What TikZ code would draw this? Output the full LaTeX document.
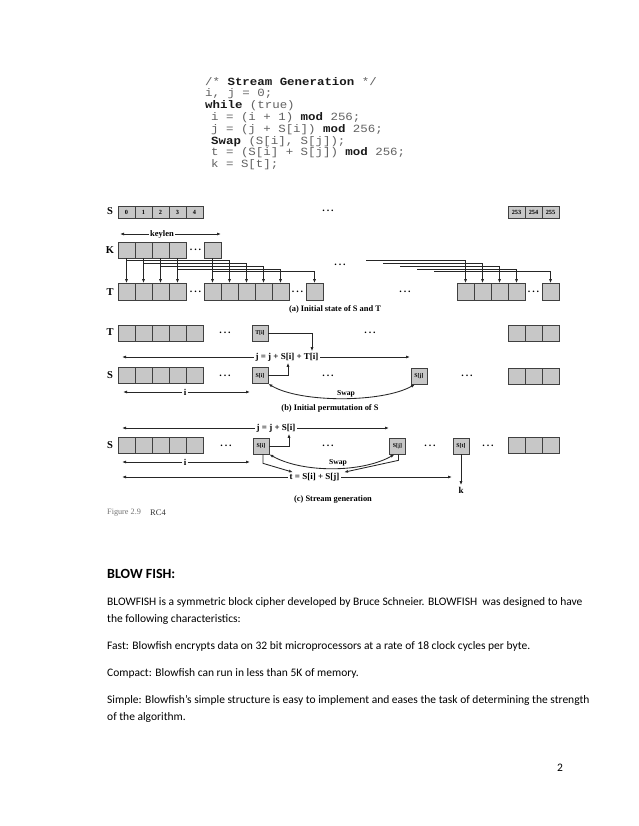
\documentclass[tikz,border=0pt]{standalone}
\usepackage{fontspec}
\setmainfont{Liberation Serif}
\newfontfamily\codefont[FakeStretch=1.13]{Liberation Mono}
\newfontfamily\bodyfont{Carlito}
\usetikzlibrary{arrows.meta,calc}
\newcommand\kw[1]{\textcolor{black!90}{\bfseries #1}}
\newcommand\threedots{\textbf{.\hspace{1.8pt}.\hspace{1.8pt}.}}
\tikzset{
  cell/.style={draw=black!75, fill=black!22, line width=0.7pt, minimum width=17pt, minimum height=16pt, inner sep=0pt, font=\fontsize{6.3}{6.3}\selectfont\bfseries},
  scell/.style={cell, minimum height=12pt},
  tcell/.style={cell, minimum height=17pt},
  icell/.style={cell, minimum width=16pt, font=\fontsize{5.8}{5.8}\selectfont\bfseries},
  lbl/.style={font=\fontsize{10.5}{11}\selectfont\bfseries, inner sep=0pt},
  dts/.style={font=\fontsize{10}{10}\selectfont, inner sep=0pt},
  arr/.style={-{Latex[length=4pt,width=3pt]}, line width=0.85pt, black!85},
  darr/.style={{Latex[length=4pt,width=3pt]}-{Latex[length=4pt,width=3pt]}, line width=0.85pt, black!85},
  capt/.style={font=\fontsize{8.4}{9}\selectfont\bfseries, inner sep=0pt},
  eq/.style={font=\fontsize{9}{9}\selectfont\bfseries, inner sep=1.5pt},
  small/.style={font=\fontsize{7.6}{8}\selectfont\bfseries, inner sep=0pt},
  code/.style={anchor=west, inner sep=0pt, font=\codefont\fontsize{11}{11}\selectfont, text=black!62},
  body/.style={anchor=base west, inner sep=0pt, font=\bodyfont\fontsize{11.5}{13}\selectfont},
}
\begin{document}
\begin{tikzpicture}[x=1pt,y=-1pt]
\path[use as bounding box, fill=white] (0,0) rectangle (638,826);

% ---------------- code ----------------
\node[code] (c1) at (205,82) {/* \kw{Stream Generation} */};
\node[code] (c2) at (205,94) {i, j = 0;};
\node[code] (c3) at (205,106) {\kw{while} (true)};
\node[code] (c4) at (211,118) {i = (i + 1) \kw{mod} 256;};
\node[code] (c5) at (211,130) {j = (j + S[i]) \kw{mod} 256;};
\node[code] (c6) at (211,141.5) {\kw{Swap} (S[i], S[j]);};
\node[code] (c7) at (211,153) {t = (S[i] + S[j]) \kw{mod} 256;};
\node[code] (c8) at (211,165) {k = S[t];};

% ---------------- (a) ----------------
\node[lbl] (Sa) at (110,211) {S};
\node[lbl] (Ka) at (110,250) {K};
\node[lbl] (Ta) at (110,292) {T};
\foreach \i/\x in {0/126.5,1/143.5,2/160.5,3/177.5,4/194.5}
  \node[scell] (sa\i) at (\x,212.5) {\i};
\foreach \i/\x in {253/516.5,254/533.5,255/550.5}
  \node[scell] (sa\i) at (\x,212.5) {\i};
\node[dts] (dSa) at (328,211) {\threedots};

\node[font=\fontsize{8.5}{8.5}\selectfont\bfseries, inner sep=1pt] (keylen) at (162,234) {keylen};
\coordinate (kl1) at (120,234);
\coordinate (kl2) at (221,234);
\draw[arr] (keylen.west) -- (kl1);
\draw[arr] (keylen.east) -- (kl2);

\foreach \i/\x in {0/126.5,1/143.5,2/160.5,3/177.5}
  \node[cell] (k\i) at (\x,250) {};
\node[dts] (dK) at (195.5,250) {\threedots};
\node[cell] (kL) at (212.5,250) {};

\foreach \i/\x in {0/126.5,1/143.5,2/160.5,3/177.5}
  \node[tcell] (t\i) at (\x,292) {};
\node[dts] (dT1) at (195.5,292) {\threedots};
\foreach \n/\x in {a/212.5,b/229.5,c/246.5,d/263.5,e/280.5}
  \node[tcell] (t\n) at (\x,292) {};
\node[dts] (dT2) at (297.5,292) {\threedots};
\node[tcell] (tf) at (314.5,292) {};
\node[dts] (dT3) at (405,292) {\threedots};
\node[dts] (dKT) at (340,265) {\threedots};
\foreach \n/\x in {0/465.5,1/482.5,2/499.5,3/516.5}
  \node[tcell] (tr\n) at (\x,292) {};
\node[dts] (dT4) at (533.5,292) {\threedots};
\node[tcell] (tr4) at (550.5,292) {};

\draw[arr] (k0.south) -- (t0.north);
\draw[arr] (k1.south) -- (t1.north);
\draw[arr] (k2.south) -- (t2.north);
\draw[arr] (k3.south) -- (t3.north);
\draw[arr] (kL.south) -- (ta.north);
\draw[arr] (k0.south |- 0,260.6) -| (tb.north);
\draw[arr] (k1.south |- 0,263.4) -| (tc.north);
\draw[arr] (k2.south |- 0,266.2) -| (td.north);
\draw[arr] (k3.south |- 0,269.0) -| (te.north);
\draw[arr] (kL.south |- 0,271.8) -| (tf.north);

\coordinate (r0) at (366,260.6);
\coordinate (r1) at (383,263.4);
\coordinate (r2) at (400,266.2);
\coordinate (r3) at (417,269.0);
\coordinate (r4) at (434,271.8);
\foreach \n in {0,...,4}
  \draw[arr] (r\n) -| (tr\n.north);

\node[capt] (capa) at (335,309) {(a) Initial state of S and T};

% ---------------- (b) ----------------
\node[lbl] (Tb) at (110,332) {T};
\foreach \i/\x in {0/126.5,1/143.5,2/160.5,3/177.5,4/194.5}
  \node[cell] (tb\i) at (\x,333) {};
\node[dts] (dTb1) at (225,333) {\threedots};
\node[icell] (tib) at (260,333) {T[i]};
\node[dts] (dTb2) at (370,333) {\threedots};
\foreach \i/\x in {5/516.5,6/533.5,7/550.5}
  \node[cell] (tb\i) at (\x,333) {};

\node[eq] (jb) at (287,357) {j = j + S[i] + T[i]};
\coordinate (jbl) at (122,357);
\coordinate (jbr) at (410,357);
\draw[arr] (jb.west) -- (jbl);
\draw[arr] (jb.east) -- (jbr);
\draw[arr] (tib.east) -| ($(jb.north)+(25,0)$);

\node[lbl] (Sb) at (110,375) {S};
\foreach \i/\x in {0/126.5,1/143.5,2/160.5,3/177.5,4/194.5}
  \node[cell] (sb\i) at (\x,375.5) {};
\node[dts] (dSb1) at (225,375.5) {\threedots};
\node[icell] (sib) at (260,375.5) {S[i]};
\node[dts] (dSb2) at (328,376) {\threedots};
\node[icell] (sjb) at (419,376) {S[j]};
\node[dts] (dSb3) at (467,376) {\threedots};
\foreach \i/\x in {5/516.5,6/533.5,7/550.5}
  \node[cell] (sb\i) at (\x,376) {};
\draw[arr] (sib.east) -| ($(jb.south)+(1,0)$);

\node[eq] (ib) at (185,392) {i};
\coordinate (ibl) at (123,392);
\coordinate (ibr) at (250,392);
\draw[arr] (ib.west) -- (ibl);
\draw[arr] (ib.east) -- (ibr);

\draw[darr] (sib.south east) .. controls (300,403) and (382,403) .. ($(sjb.south)+(-4,0)$);
\node[small] (swb) at (346,394) {Swap};

\node[capt] (capb) at (330,408) {(b) Initial permutation of S};

% ---------------- (c) ----------------
\node[eq] (jc) at (276,428) {j = j + S[i]};
\coordinate (jcl) at (122,428);
\coordinate (jcr) at (389,428);
\draw[arr] (jc.west) -- (jcl);
\draw[arr] (jc.east) -- (jcr);

\node[lbl] (Sc) at (110,445) {S};
\foreach \i/\x in {0/126.5,1/143.5,2/160.5,3/177.5,4/194.5}
  \node[cell] (sc\i) at (\x,445.5) {};
\node[dts] (dSc1) at (226,445.5) {\threedots};
\node[icell] (sic) at (261,446) {S[i]};
\node[dts] (dSc2) at (328,445.5) {\threedots};
\node[icell] (sjc) at (397.5,446) {S[j]};
\node[dts] (dSc3) at (430,445.5) {\threedots};
\node[icell] (stc) at (461,446) {S[t]};
\node[dts] (dSc4) at (488,445.5) {\threedots};
\foreach \i/\x in {5/516.5,6/533.5,7/550.5}
  \node[cell] (sc\i) at (\x,445.5) {};
\draw[arr] (sic.east) -| ($(jc.south)+(13,0)$);

\node[eq] (ic) at (185,462) {i};
\coordinate (icl) at (122,462);
\coordinate (icr) at (250,462);
\draw[arr] (ic.west) -- (icl);
\draw[arr] (ic.east) -- (icr);

\draw[darr] (sic.south east) .. controls (302,473) and (362,473) .. ($(sjc.south)+(-3,0)$);
\node[small] (swc) at (338,463) {Swap};

\node[eq] (tc) at (314.5,477) {t = S[i] + S[j]};
\coordinate (tcl) at (122,477);
\coordinate (tcr) at (452,477);
\draw[arr] (tc.west) -- (tcl);
\draw[arr] (tc.east) -- (tcr);
\draw[arr] ($(sic.south)+(2,0)$) -- ++(0,9) -- ($(tc.north west)+(5,1)$);
\draw[arr] ($(sjc.south)+(1,0)$) -- ++(0,6) -- ($(tc.north east)+(3,1)$);

\node[eq] (kc) at (461,490) {k};
\draw[arr] (stc.south) -- (kc.north);

\node[capt] (capc) at (333,500) {(c) Stream generation};

\node[anchor=west, inner sep=0pt, font=\fontsize{8.2}{9}\selectfont, text=black!55] (fig) at (107,513) {Figure 2.9};
\node[anchor=west, inner sep=0pt, font=\fontsize{8.5}{9}\selectfont, text=black!80] (rc4) at (150,513) {RC4};

% ---------------- text ----------------
\node[anchor=base west, inner sep=0pt, font=\bodyfont\fontsize{14}{16}\selectfont\bfseries] (head) at (107,578) {BLOW FISH:};
\node[body] (b1) at (107,605) {BLOWFISH is a symmetric block cipher developed by Bruce Schneier. BLOWFISH\ \ was designed to have};
\node[body] (b2) at (107,622) {the following characteristics:};
\node[body] (b3) at (107,649) {Fast: Blowfish encrypts data on 32 bit microprocessors at a rate of 18 clock cycles per byte.};
\node[body] (b4) at (107,676) {Compact: Blowfish can run in less than 5K of memory.};
\node[body] (b5) at (107,703) {Simple: Blowfish’s simple structure is easy to implement and eases the task of determining the strength};
\node[body] (b6) at (107,720) {of the algorithm.};
\node[body] (pg) at (557,771) {2};
\end{tikzpicture}
\end{document}
